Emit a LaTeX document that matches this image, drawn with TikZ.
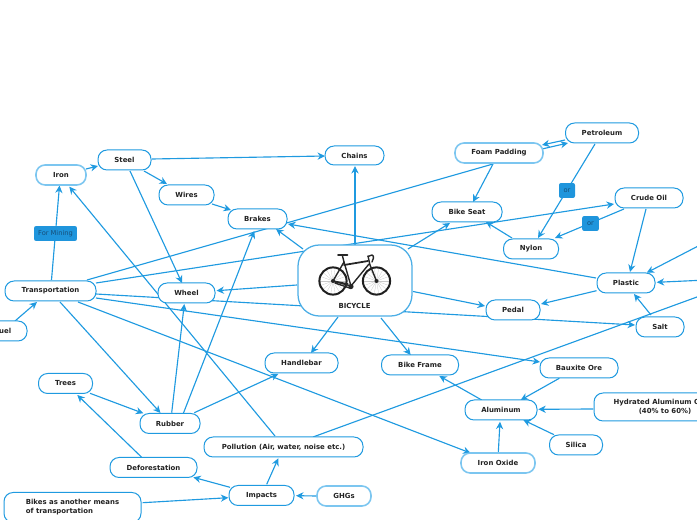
\documentclass[tikz,border=0pt]{standalone}
\usepackage{fontspec}
\setmainfont{DejaVu Sans}
\usetikzlibrary{calc,arrows.meta,backgrounds}
\definecolor{linkc}{HTML}{1F9AE0}
\definecolor{lightc}{HTML}{7CC6F0}
\definecolor{inkc}{HTML}{222222}
\definecolor{labc}{HTML}{1F95DC}
\definecolor{labt}{HTML}{164E78}
\tikzset{
  pill/.style n args={2}{draw=linkc,line width=.75pt,fill=white,rounded corners=6.8pt,inner sep=0pt,
    minimum width=#1*.75pt,minimum height=#2*.75pt,text=inkc,font=\fontsize{5.2}{6.8}\selectfont\bfseries,align=center},
  soft/.style={draw=lightc,line width=1.2pt},
  conn/.style={draw=linkc,line width=.85pt,-{Stealth[length=5.6pt,width=5.4pt]}},
  plainconn/.style={draw=linkc,line width=.85pt},
  tag/.style={fill=labc,rounded corners=1.5pt,inner sep=0pt,text=labt,font=\fontsize{5}{6}\selectfont,
    minimum height=11.2pt},
  frameline/.style={draw=black!85,line width=1.05pt,line cap=round,line join=round},
}
\begin{document}
\begin{tikzpicture}[x=.75pt,y=-.75pt]
\useasboundingbox (0,0) rectangle (697,520);
% nodes
\node[pill={114}{71},draw=linkc!80,line width=.95pt,rounded corners=16pt,text depth=0pt] (bike) at (355,280.5) {};
\node[text=inkc,font=\fontsize{5.2}{6.8}\selectfont\bfseries,inner sep=0pt] (biketxt) at (354.5,306) {BICYCLE};
\node[pill={50}{20},soft] (iron) at (61,175) {Iron};
\node[pill={53}{20}] (steel) at (124.5,160) {Steel};
\node[pill={55}{20}] (wires) at (186.5,195) {Wires};
\node[pill={59}{20}] (brakes) at (257.5,219) {Brakes};
\node[pill={59}{19}] (chains) at (354.5,155.5) {Chains};
\node[pill={91}{20}] (trans) at (50.5,291) {Transportation};
\node[pill={57}{20}] (wheel) at (186.5,293) {Wheel};
\node[pill={48}{20}] (fuel) at (3,331) {Fuel};
\node[pill={73}{20}] (handle) at (301.5,363) {Handlebar};
\node[pill={54}{20}] (trees) at (65.5,383.5) {Trees};
\node[pill={60}{20}] (rubber) at (170,423.5) {Rubber};
\node[pill={159}{20}] (poll) at (283.5,447) {Pollution (Air, water, noise etc.)};
\node[pill={87}{20}] (defor) at (153.5,467.5) {Deforestation};
\node[pill={65}{20}] (impacts) at (261.5,495.5) {Impacts};
\node[pill={54}{20},soft] (ghgs) at (344,496) {GHGs};
\node[pill={137}{30},align=left] (bikes) at (72.5,507.5) {Bikes as another means\\of transportation};
\node[pill={70}{20}] (seat) at (467,212) {Bike Seat};
\node[pill={88}{20},soft] (foam) at (499,153) {Foam Padding};
\node[pill={73}{20}] (petrol) at (602,133) {Petroleum};
\node[pill={68}{20}] (crude) at (649,198) {Crude Oil};
\node[pill={55}{20}] (nylon) at (531,249) {Nylon};
\node[pill={58}{20}] (plastic) at (626,283) {Plastic};
\node[pill={54}{20}] (pedal) at (513,310) {Pedal};
\node[pill={48}{20}] (salt) at (660,327) {Salt};
\node[pill={77}{20}] (frame) at (420,365) {Bike Frame};
\node[pill={78}{20}] (baux) at (579,368) {Bauxite Ore};
\node[pill={72}{20}] (alum) at (501,410) {Aluminum};
\node[pill={142}{28}] (hyd) at (665,407) {Hydrated Aluminum Oxide\\(40\% to 60\%)};
\node[pill={53}{20}] (silica) at (576,445) {Silica};
\node[pill={74}{20},soft] (ironox) at (498,463) {Iron Oxide};
\node[tag,minimum width=32.2pt] (mining) at (55.5,233.5) {For Mining};
\node[tag,minimum width=12pt] (or1) at (567,190.5) {or};
\node[tag,minimum width=12.5pt] (or2) at (590.5,223.5) {or};
\coordinate (off1) at (720,234.7);
\coordinate (off2) at (720,279.4);
\coordinate (off3) at (720,288.6);
% bicycle picture
\foreach \cx/\cy in {333/281,376.5/281}{
  \foreach \a in {0,20,...,340}
    \draw[black!22,line width=.2pt] (\cx,\cy) -- ++(\a:13);
  \draw[black!88,line width=1.5pt] (\cx,\cy) circle[radius=13.6];
  \fill[black!85] (\cx,\cy) circle[radius=2];
}
\draw[frameline] (333,281) -- (351,286) -- (344,262) -- (333,281);
\draw[frameline] (351,286) -- (369,264);
\draw[frameline,line width=1.3pt] (344,265) -- (368,261);
\draw[frameline] (344,262) -- (342.5,256);
\draw[frameline,line width=1.4pt] (338,255) -- (347.5,255);
\draw[frameline] (368,256) -- (370,265) -- (376.5,281);
\draw[frameline] (368,256.5) -- (372,255) to[out=-20,in=60] (372,262);
\draw[frameline] (333,281) -- (348,284) (335,283) -- (351,288.5);
\fill[black!85] (351,286.5) circle[radius=2.6];
% connectors
\begin{pgfonlayer}{background}
\draw[conn] ($(iron)+(25,-6)$) -- ($(steel)+(-26.5,6)$);
\draw[conn] ($(steel)+(19.5,11)$) -- ($(wires)+(-19.5,-11)$);
\draw[conn] ($(wires)+(25.5,9)$) -- ($(brakes)+(-26.5,-9)$);
\draw[conn] ($(steel)+(5.5,11)$) -- ($(wheel)+(-4.5,-10)$);
\draw[conn] ($(steel)+(27.5,-1)$) -- ($(chains)+(-29.5,.5)$);
\draw[conn] ($(bike)+(0,-35)$) -- ($(chains)+(.5,10.5)$);
\draw[conn] ($(bike)+(-52,-31.5)$) -- ($(brakes)+(18.5,10)$);
\draw[conn] ($(bike)+(-58,4.5)$) -- ($(wheel)+(30,-2.3)$);
\draw[conn] ($(bike)+(-17,36.5)$) -- ($(handle)+(9.5,-10)$);
\draw[conn] ($(bike)+(26,37.5)$) -- ($(frame)+(-9.3,-10)$);
\draw[conn] ($(bike)+(58,11)$) -- ($(pedal)+(-28,-4)$);
\draw[conn] ($(bike)+(53,-31.5)$) -- ($(seat)+(-17,11)$);
\draw[conn] ($(trans)+(1,-11)$) -- ($(iron)+(-1.5,10.5)$);
\draw[conn] ($(fuel)+(12,-10)$) -- ($(trans)+(-13.5,11)$);
\draw[plainconn] ($(trans)+(36.5,-11)$) -- ($(foam)+(-6,11)$);
\draw[conn] ($(trans)+(45.5,-8)$) -- ($(crude)+(-35,6)$);
\draw[conn] ($(trans)+(45.5,3)$) -- ($(salt)+(-25,-2)$);
\draw[conn] ($(trans)+(45.5,7)$) -- ($(baux)+(-39,-6)$);
\draw[conn] ($(trans)+(27.5,11)$) -- ($(ironox)+(-27.5,-10)$);
\draw[conn] ($(trans)+(9.5,11)$) -- ($(rubber)+(-9.5,-10.5)$);
\draw[conn] ($(plastic)+(-30,-5)$) -- ($(brakes)+(30.5,5)$);
\draw[conn] ($(plastic)+(-29.5,7.7)$) -- ($(pedal)+(28,-6)$);
\draw[conn] ($(crude)+(-3,11)$) -- ($(plastic)+(4,-11)$);
\draw[conn] ($(crude)+(-25,11)$) -- ($(nylon)+(24,-11)$);
\draw[conn] ($(petrol)+(-7,11)$) -- ($(nylon)+(7,-11)$);
\draw[conn] ($(foam)+(43,-4)$) -- ($(petrol)+(-34,10)$);
\draw[conn] ($(petrol)+(-37,7)$) -- ($(foam)+(43,-8)$);
\draw[conn] ($(foam)+(-6,11)$) -- ($(seat)+(6,-10)$);
\draw[conn] ($(nylon)+(-19,-11)$) -- ($(seat)+(19,10)$);
\draw[conn] ($(salt)+(-9,-12)$) -- ($(plastic)+(8,11)$);
\draw[conn] (off1) -- ($(plastic)+(20.7,-10.3)$);
\draw[conn] (off2) -- ($(plastic)+(30.7,-.7)$);
\draw[plainconn] ($(poll)+(29.5,-10)$) -- (off3);
\draw[conn] ($(rubber)+(1.7,-10.8)$) -- ($(wheel)+(-2.2,11)$);
\draw[conn] ($(rubber)+(13.5,-10.5)$) -- ($(brakes)+(-3.2,12)$);
\draw[conn] ($(rubber)+(24.3,-10.8)$) -- ($(handle)+(-23.2,11)$);
\draw[conn] ($(trees)+(24.5,9.8)$) -- ($(rubber)+(-26.7,-10.2)$);
\draw[conn] ($(defor)+(-11.8,-10.2)$) -- ($(trees)+(11.8,11.5)$);
\draw[conn] ($(impacts)+(-31.5,-8.2)$) -- ($(defor)+(39.8,9.8)$);
\draw[conn] ($(impacts)+(5.2,-11.2)$) -- ($(poll)+(-5.2,11.3)$);
\draw[conn] ($(ghgs)+(-27.3,0)$) -- ($(impacts)+(34.5,.2)$);
\draw[conn] ($(bikes)+(70.2,-4.8)$) -- ($(impacts)+(-33.2,2.2)$);
\draw[conn] ($(poll)+(-8.5,-11)$) -- ($(iron)+(8.3,11.7)$);
\draw[conn] ($(alum)+(-19.3,-10)$) -- ($(frame)+(19.3,11)$);
\draw[conn] ($(baux)+(-19.7,10.3)$) -- ($(alum)+(19.7,-10)$);
\draw[conn] ($(hyd)+(-71.7,2)$) -- ($(alum)+(37.3,-.7)$);
\draw[conn] ($(silica)+(-22,-10.3)$) -- ($(alum)+(22.3,10)$);
\draw[conn] ($(ironox)+(.3,-10.3)$) -- ($(alum)+(-1,11.7)$);
\end{pgfonlayer}
\end{tikzpicture}
\end{document}
